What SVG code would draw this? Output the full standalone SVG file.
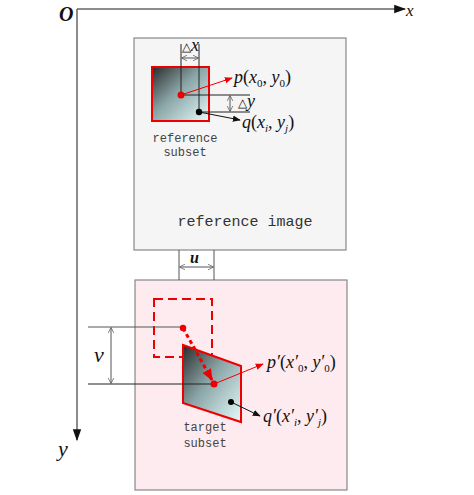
<svg xmlns="http://www.w3.org/2000/svg" width="474" height="495" viewBox="0 0 474 495">
<style>
.ax{stroke:#666;stroke-width:1.5;fill:none}
.thin{stroke:#555;stroke-width:1;fill:none}
.blk{stroke:#222;stroke-width:1;fill:none}
.m{font-family:"Liberation Serif",serif;font-style:italic;font-size:18px;fill:#111}
.mono{font-family:"Liberation Mono",monospace;font-size:12px;fill:#444}
</style>
<defs>
<linearGradient id="g" x1="0" y1="0" x2="1" y2="1">
<stop offset="0" stop-color="#2a2a2a"/>
<stop offset="0.45" stop-color="#8aa5a7"/>
<stop offset="1" stop-color="#e6fbfb"/>
</linearGradient>
<marker id="ah" viewBox="0 0 10 10" refX="9" refY="5" markerWidth="8" markerHeight="8" orient="auto" markerUnits="userSpaceOnUse"><path d="M0,1 L10,5 L0,9 Z" fill="#111"/></marker>
<marker id="ahr" viewBox="0 0 10 10" refX="9" refY="5" markerWidth="8" markerHeight="8" orient="auto" markerUnits="userSpaceOnUse"><path d="M0,1 L10,5 L0,9 Z" fill="#e00"/></marker>
<marker id="ahbig" viewBox="0 0 10 10" refX="9" refY="5" markerWidth="12" markerHeight="12" orient="auto" markerUnits="userSpaceOnUse"><path d="M0,1 L10,5 L0,9 Z" fill="#e00"/></marker>
<marker id="axh" viewBox="0 0 10 10" refX="9" refY="5" markerWidth="12" markerHeight="12" orient="auto" markerUnits="userSpaceOnUse"><path d="M0,1.5 L10,5 L0,8.5 Z" fill="#111"/></marker>
<marker id="oh" viewBox="0 0 10 10" refX="9" refY="5" markerWidth="6" markerHeight="6" orient="auto-start-reverse" markerUnits="userSpaceOnUse"><path d="M0,0 L10,5 L0,10" fill="none" stroke="#555" stroke-width="1.2"/></marker>
</defs>

<g id="axes">
<line class="ax" x1="77" y1="9" x2="405" y2="9" marker-end="url(#axh)"/>
<line class="ax" x1="77" y1="9" x2="77" y2="440" marker-end="url(#axh)"/>
<text x="59" y="21" font-family="Liberation Serif,serif" font-style="italic" font-weight="bold" font-size="20" fill="#111">O</text>
<text x="406" y="16" font-family="Liberation Serif,serif" font-style="italic" font-size="17" fill="#111">x</text>
<text x="58" y="456" font-family="Liberation Serif,serif" font-style="italic" font-size="22" fill="#111">y</text>
</g>

<g id="reference-image">
<rect x="134" y="38" width="212" height="212" fill="#f5f5f5" stroke="#888" stroke-width="1.2"/>
<text x="245" y="226" font-family="Liberation Mono,monospace" font-size="15" fill="#333" text-anchor="middle">reference image</text>
</g>

<g id="target-image">
<rect x="135" y="280" width="212" height="210" fill="#fdebef" stroke="#888" stroke-width="1.2"/>
</g>

<g id="reference-subset">
<rect x="152" y="67" width="57" height="54" fill="url(#g)" stroke="#e00" stroke-width="2"/>
<text class="mono" x="185" y="142" text-anchor="middle">reference</text>
<text class="mono" x="185" y="156" text-anchor="middle">subset</text>
</g>

<g id="target-subset">
<rect x="154" y="299" width="58" height="58" fill="none" stroke="#e00" stroke-width="2" stroke-dasharray="9,5"/>
<polygon points="183,345 241,366 241,422 183,403" fill="url(#g)" stroke="#e00" stroke-width="2"/>
<text class="mono" x="205" y="431" text-anchor="middle">target</text>
<text class="mono" x="205" y="447" text-anchor="middle">subset</text>
</g>

<g id="connectors">
<line class="blk" x1="181" y1="95" x2="181" y2="44"/>
<line class="blk" x1="199" y1="112" x2="199" y2="44"/>
<line class="thin" x1="182" y1="58" x2="198" y2="58" marker-start="url(#oh)" marker-end="url(#oh)"/>
<line class="blk" x1="181" y1="95" x2="250" y2="95"/>
<line class="blk" x1="199" y1="112" x2="250" y2="112"/>
<line class="thin" x1="230" y1="96" x2="230" y2="111" marker-start="url(#oh)" marker-end="url(#oh)"/>
<line x1="181" y1="95" x2="232" y2="78" stroke="#e00" stroke-width="1" marker-end="url(#ahr)"/>
<line x1="199" y1="112" x2="240" y2="120" stroke="#111" stroke-width="1" marker-end="url(#ah)"/>
<line class="thin" x1="179" y1="250" x2="179" y2="280"/>
<line class="thin" x1="214" y1="250" x2="214" y2="280"/>
<line class="thin" x1="180" y1="267" x2="213" y2="267" marker-start="url(#oh)" marker-end="url(#oh)"/>
<line class="thin" x1="88" y1="327" x2="183" y2="327"/>
<line class="blk" x1="88" y1="384" x2="214" y2="384"/>
<line class="thin" x1="111" y1="328" x2="111" y2="383" marker-start="url(#oh)" marker-end="url(#oh)"/>
<line x1="183" y1="328" x2="212" y2="380" stroke="#e00" stroke-width="3" stroke-dasharray="4,3" marker-end="url(#ahbig)"/>
<line x1="214" y1="384" x2="263" y2="364" stroke="#e00" stroke-width="1" marker-end="url(#ahr)"/>
<line x1="231" y1="402" x2="260" y2="416" stroke="#111" stroke-width="1" marker-end="url(#ah)"/>
</g>

<g id="points">
<circle cx="181" cy="95" r="3.5" fill="#e00"/>
<circle cx="199" cy="112" r="3.2" fill="#000"/>
<circle cx="183" cy="328" r="3.2" fill="#e00"/>
<circle cx="214" cy="384" r="3.5" fill="#e00"/>
<circle cx="231" cy="402" r="3" fill="#000"/>
</g>

<g id="labels">
<text x="182" y="51" font-family="Liberation Serif,serif" font-size="12" fill="#111">△<tspan font-style="italic" font-size="18">x</tspan></text>
<text x="238" y="107" font-family="Liberation Serif,serif" font-size="12" fill="#111">△<tspan font-style="italic" font-size="18">y</tspan></text>
<text class="m" x="234" y="83">p<tspan font-style="normal">(</tspan>x<tspan font-size="11" dy="4" font-style="normal">0</tspan><tspan dy="-4" font-style="normal">, </tspan>y<tspan font-size="11" dy="4" font-style="normal">0</tspan><tspan dy="-4" font-style="normal">)</tspan></text>
<text class="m" x="242" y="128">q<tspan font-style="normal">(</tspan>x<tspan font-size="11" dy="4">i</tspan><tspan dy="-4" font-style="normal">, </tspan>y<tspan font-size="11" dy="4">j</tspan><tspan dy="-4" font-style="normal">)</tspan></text>
<text x="190" y="263" font-family="Liberation Serif,serif" font-style="italic" font-weight="bold" font-size="16" fill="#111">u</text>
<text x="94" y="362" font-family="Liberation Serif,serif" font-style="italic" font-size="22" fill="#111">v</text>
<text class="m" x="267" y="368">p′<tspan font-style="normal">(</tspan>x′<tspan font-size="11" dy="4" font-style="normal">0</tspan><tspan dy="-4" font-style="normal">, </tspan>y′<tspan font-size="11" dy="4" font-style="normal">0</tspan><tspan dy="-4" font-style="normal">)</tspan></text>
<text class="m" x="263" y="422">q′<tspan font-style="normal">(</tspan>x′<tspan font-size="11" dy="4">i</tspan><tspan dy="-4" font-style="normal">, </tspan>y′<tspan font-size="11" dy="4">j</tspan><tspan dy="-4" font-style="normal">)</tspan></text>
</g>
</svg>
